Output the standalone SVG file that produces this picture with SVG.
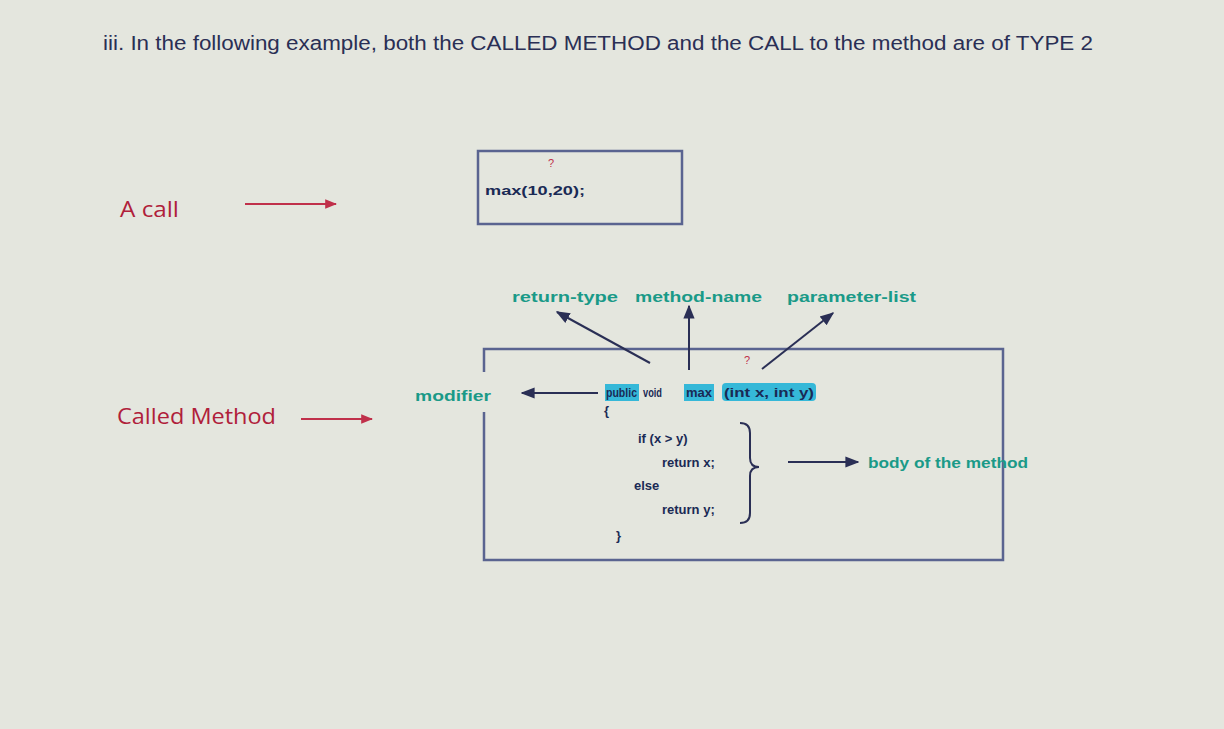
<svg xmlns="http://www.w3.org/2000/svg" width="1224" height="729" viewBox="0 0 1224 729">
<defs>
<marker id="ah" viewBox="0 0 10 10" refX="9" refY="5" markerWidth="7" markerHeight="7" orient="auto"><path d="M0,1 L10,5 L0,9 z" fill="#2a2f55"/></marker>
<marker id="ar" viewBox="0 0 10 10" refX="9" refY="5" markerWidth="6" markerHeight="6" orient="auto"><path d="M0,1 L10,5 L0,9 z" fill="#c0304a"/></marker>
<style>
.t{font-family:"Liberation Sans",Arial,sans-serif}
.lbl{font-family:"Open Sans","Liberation Sans",sans-serif;font-size:21px;fill:#b0203a}
.g{font-family:"Liberation Sans",sans-serif;font-size:15px;font-weight:bold;fill:#1a9a88}
.c{font-family:"Liberation Sans",sans-serif;font-size:13px;font-weight:bold;fill:#1a2a55}
.ln{stroke:#2a2f55;stroke-width:2;fill:none}
.box{fill:none;stroke:#5a6490;stroke-width:2.5}
</style>
</defs>
<rect width="1224" height="729" fill="#e4e6de"/>
<text class="t" x="103" y="50" font-size="20" fill="#2a2f55" textLength="990" lengthAdjust="spacingAndGlyphs">iii. In the following example, both the CALLED METHOD and the CALL to the method are of TYPE 2</text>
<g id="acall"><text class="lbl" x="120" y="217" textLength="59" lengthAdjust="spacingAndGlyphs">A call</text></g>
<g id="called"><text class="lbl" x="117" y="424" textLength="159" lengthAdjust="spacingAndGlyphs">Called Method</text></g>
<g id="callbox">
<rect class="box" x="478" y="151" width="204" height="73"/>
<text class="t" x="548" y="167" font-size="11" fill="#c0304a">?</text>
<text class="c" x="485" y="195" font-size="15" textLength="100" lengthAdjust="spacingAndGlyphs">max(10,20);</text>
</g>
<g id="method">
<path class="box" d="M484,372 V349 H1003 V560 H484 V412"/>
<text class="t" x="744" y="364" font-size="11" fill="#c0304a">?</text>
<rect x="605" y="384" width="34" height="17" fill="#35b8d8"/>
<rect x="684" y="384" width="30" height="17" fill="#35b8d8"/>
<rect x="722" y="383" width="94" height="18" rx="4" fill="#35b8d8"/>
<text class="c" x="606" y="397" font-size="11" textLength="31" lengthAdjust="spacingAndGlyphs">public</text>
<text class="c" x="643" y="397" font-size="9" textLength="19" lengthAdjust="spacingAndGlyphs">void</text>
<text class="c" x="686" y="397" font-size="11" textLength="26" lengthAdjust="spacingAndGlyphs">max</text>
<text class="c" x="724" y="397" textLength="90" lengthAdjust="spacingAndGlyphs">(int x, int y)</text>
<text class="c" x="604" y="415">{</text>
<text class="c" x="638" y="443">if (x &gt; y)</text>
<text class="c" x="662" y="467">return x;</text>
<text class="c" x="634" y="490">else</text>
<text class="c" x="662" y="514">return y;</text>
<text class="c" x="616" y="540">}</text>
<path class="ln" d="M740,423 q10,0 10,10 v25 q0,9 9,9 q-9,0 -9,9 v37 q0,10 -10,10"/>
</g>
<g id="labels">
<text class="g" x="512" y="302" textLength="106" lengthAdjust="spacingAndGlyphs">return-type</text>
<text class="g" x="635" y="302" textLength="127" lengthAdjust="spacingAndGlyphs">method-name</text>
<text class="g" x="787" y="302" textLength="129" lengthAdjust="spacingAndGlyphs">parameter-list</text>
<text class="g" x="415" y="401" fill="#2aa89a" font-weight="normal" textLength="76" lengthAdjust="spacingAndGlyphs">modifier</text>
<text class="g" x="868" y="468" font-size="13" textLength="160" lengthAdjust="spacingAndGlyphs">body of the method</text>
</g>
<g id="connectors">
<line x1="245" y1="204" x2="336" y2="204" stroke="#c0304a" stroke-width="2" marker-end="url(#ar)"/>
<line x1="301" y1="419" x2="372" y2="419" stroke="#c0304a" stroke-width="2" marker-end="url(#ar)"/>
<line class="ln" x1="650" y1="363" x2="557" y2="312" marker-end="url(#ah)"/>
<line class="ln" x1="689" y1="370" x2="689" y2="306" marker-end="url(#ah)"/>
<line class="ln" x1="762" y1="369" x2="833" y2="313" marker-end="url(#ah)"/>
<line class="ln" x1="598" y1="393" x2="522" y2="393" marker-end="url(#ah)"/>
<line class="ln" x1="788" y1="462" x2="858" y2="462" marker-end="url(#ah)"/>
</g>
</svg>
